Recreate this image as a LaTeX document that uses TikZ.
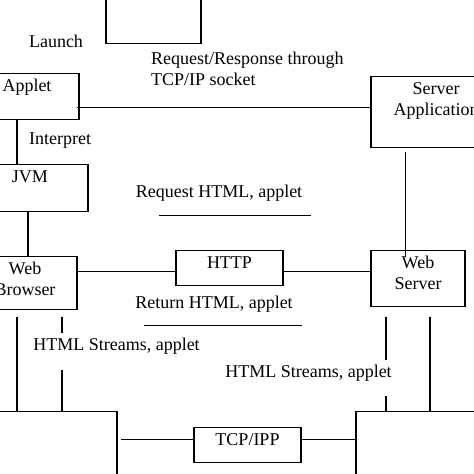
\documentclass[tikz,border=0pt]{standalone}
\usepackage{fontspec}
\setmainfont{Liberation Serif}
\usetikzlibrary{positioning}
\tikzset{
  box/.style={
    rectangle, draw=black, line width=1.3pt, align=center, anchor=north,
    inner xsep=0pt, inner ysep=6pt, text height=12pt
  },
  twoline/.style={
    text height=32.5pt
  },
  txt/.style={
    inner sep=0pt, align=left
  },
  link/.style={
    line width=1.3pt, color=black
  }
}

\begin{document}
\begin{tikzpicture}[
  x=1pt, y=-1pt,
  font=\fontsize{18}{20.5}\selectfont
]
\useasboundingbox (0,0) rectangle (474,474);
\clip (0,0) rectangle (474,474);

\node[box, minimum width=95pt, text depth=39pt] (host) at (153.5,-20) {};
\node[box, minimum width=104pt, text depth=22pt] (applet) at (27,73) {Applet};
\node[box, minimum width=116pt, text depth=23pt] (jvm) at (30,164) {JVM};
\node[box, twoline, minimum width=104pt, text depth=8.5pt] (browser) at (25,256) {Web\\Browser};
\node[box, minimum width=107pt, text depth=11pt] (http) at (229.5,250) {HTTP};
\node[box, twoline, minimum width=130pt, text depth=26.5pt] (sapp) at (436,76) {Server\\Application};
\node[box, twoline, minimum width=94pt, text depth=11.5pt] (wserver) at (418,250) {Web\\Server};
\node[box, minimum width=107pt, text depth=11pt] (tcp) at (247.5,427) {TCP/IPP};
\node[box, minimum width=137pt, text depth=65pt] (bleft) at (48.5,411) {};
\node[box, minimum width=144pt, text depth=65pt] (bright) at (428,411) {};

\node[txt] (launch) at (56,41) {Launch};
\node[txt, anchor=north west] (socket) at (151,52) {Request/Response through\\TCP/IP socket};
\node[txt, anchor=west] (interpret) at (29,141) {Interpret};
\node[txt] (reqhtml) at (219,193) {Request HTML, applet};
\node[txt] (rethtml) at (214,304) {Return HTML, applet};
\node[txt] (streamsl) at (116.5,346) {HTML Streams, applet};
\node[txt] (streamsr) at (308.5,373) {HTML Streams, applet};

\coordinate (sa) at ([xshift=35pt]sapp.south west);
\coordinate (bl) at ([xshift=37pt]browser.south);
\coordinate (wr) at ([xshift=-32pt]wserver.south);

\draw[link] ([xshift=-3pt,yshift=-11pt]applet.east) -- ([yshift=-11pt]applet.east -| sapp.west);
\draw[link] ([yshift=-4pt]sa) -- ([yshift=-7pt]sa |- wserver.north);
\draw[link] ([xshift=-10pt]applet.south) -- ([xshift=-10pt]applet.south |- jvm.north);
\draw[link] ([xshift=-2pt]jvm.south) -- ([xshift=-2pt]jvm.south |- browser.north);
\draw[link] ([yshift=-3.5pt]http.west) -- ([yshift=-3.5pt]http.west -| browser.east);
\draw[link] ([yshift=-3.5pt]http.east) -- ([yshift=-3.5pt]http.east -| wserver.west);
\draw[link] ([xshift=-8pt,yshift=-7pt]browser.south) -- ([xshift=-8pt]browser.south |- bleft.north);
\draw[link] ([yshift=-7pt]bl) -- ([yshift=5pt]bl |- streamsl.north);
\draw[link] ([yshift=-16pt]bl |- streamsl.south) -- (bl |- bleft.north);
\draw[link] ([yshift=-10pt]wr) -- ([yshift=5pt]wr |- streamsr.north);
\draw[link] ([yshift=-15pt]wr |- streamsr.south) -- (wr |- bright.north);
\draw[link] ([xshift=12pt,yshift=-10pt]wserver.south) -- ([xshift=12pt]wserver.south |- bright.north);
\draw[link] ([yshift=6pt]tcp.west) -- ([xshift=3pt,yshift=6pt]tcp.west -| bleft.east);
\draw[link] ([yshift=6pt]tcp.east) -- ([yshift=6pt]tcp.east -| bright.west);
\draw[link] ([xshift=23pt,yshift=-14pt]reqhtml.south west) -- ([xshift=9pt,yshift=-14pt]reqhtml.south east);
\draw[link] ([xshift=8.5pt,yshift=-13pt]rethtml.south west) -- ([xshift=9.5pt,yshift=-13pt]rethtml.south east);
\end{tikzpicture}
\end{document}
